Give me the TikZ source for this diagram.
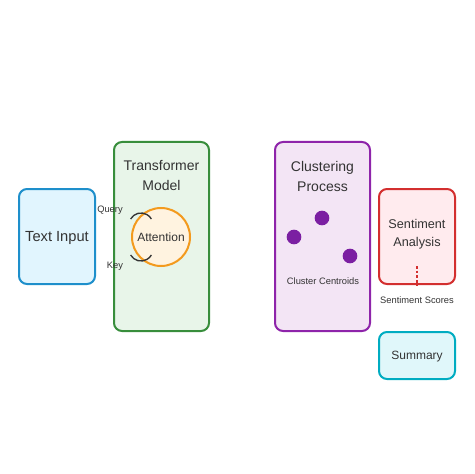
\documentclass[tikz,border=0pt]{standalone}
\usepackage{fontspec}
\setmainfont{Liberation Sans}
\definecolor{txt}{HTML}{333333}
\definecolor{inblue}{HTML}{1E8FCB}
\definecolor{inbluefill}{HTML}{E1F5FE}
\definecolor{trgreen}{HTML}{388E3C}
\definecolor{trgreenfill}{HTML}{E8F5E9}
\definecolor{attorange}{HTML}{F39A1E}
\definecolor{attfill}{HTML}{FFF3E0}
\definecolor{clpurple}{HTML}{8E24AA}
\definecolor{clfill}{HTML}{F3E5F5}
\definecolor{dotpurple}{HTML}{7B1FA2}
\definecolor{sared}{HTML}{D32F2F}
\definecolor{safill}{HTML}{FFEBEE}
\definecolor{suteal}{HTML}{00ACC1}
\definecolor{sufill}{HTML}{E0F7FA}
\begin{document}
\begin{tikzpicture}[x=0.75pt, y=-0.75pt,
	box/.style = {draw, line width=1.5pt, rounded corners=6pt, inner sep=0pt},
	title/.style = {text=txt, align=center, font=\fontsize{10.5}{15}\selectfont},
	small/.style = {text=txt, font=\fontsize{7}{8}\selectfont},
	centroid/.style = {circle, fill=dotpurple, minimum size=11pt, inner sep=0pt}]
			\useasboundingbox (0,0) rectangle (474,474);

			\node[box, draw=inblue, fill=inbluefill, minimum width=57pt, minimum height=71.25pt] (input) at (57,236.5) {};
			\node[title, font=\fontsize{11}{15}\selectfont] at (57,238) {Text Input};

			\node[box, draw=trgreen, fill=trgreenfill, minimum width=71.25pt, minimum height=141.75pt] (transformer) at (161.5,236.5) {};
			\node[title] (transtitle) at (161.5,176) {Transformer\\Model};
			\node[circle, draw=attorange, fill=attfill, line width=1.5pt, minimum size=43.5pt, inner sep=0pt,
				text=txt, font=\fontsize{9}{10}\selectfont] (attention) at (161,237) {Attention};
			\draw[txt, line width=1pt] (141,225) ++(210:12) arc (210:330:12);
			\draw[txt, line width=1pt] (141,249) ++(150:12) arc (150:30:12);
			\node[small] (query) at (110,210) {Query};
			\node[small] (key) at (115,266.5) {Key};

			\node[box, draw=clpurple, fill=clfill, minimum width=71.25pt, minimum height=141.75pt] (clustering) at (322.5,236.5) {};
			\node[title] (cltitle) at (322.5,176) {Clustering\\Process};
			\node[centroid] (c1) at (322,218) {};
			\node[centroid] (c2) at (294,237) {};
			\node[centroid] (c3) at (350,256) {};
			\node[small] (centroids) at (323,281) {Cluster Centroids};

			\node[box, draw=sared, fill=safill, minimum width=57pt, minimum height=71.25pt] (sentiment) at (417,236.5) {};
			\node[text=txt, align=center, font=\fontsize{9.5}{13.5}\selectfont] (satitle) at (417,234) {Sentiment\\Analysis};
			\coordinate (scoretop) at (417,266);
			\draw[sared, line width=1.2pt, dash pattern=on 2pt off 1.5pt] (scoretop) -- (sentiment.south);
			\node[small] (scores) at (417,300) {Sentiment Scores};

			\node[box, draw=suteal, fill=sufill, minimum width=57pt, minimum height=35.25pt] (summary) at (417,355.5) {};
			\node[text=txt, font=\fontsize{9}{10}\selectfont] at (417,356.5) {Summary};
		\end{tikzpicture}
\end{document}
